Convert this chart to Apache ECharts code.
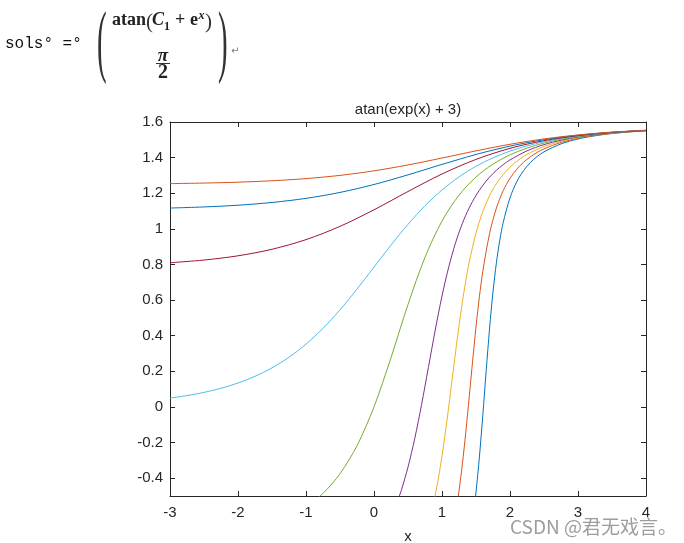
<!DOCTYPE html>
<html>
<head>
<meta charset="utf-8">
<script src="https://cdn.jsdelivr.net/npm/echarts@6/dist/echarts.min.js"></script>
<style>
html,body{margin:0;padding:0;background:#fff;}
#chart{width:684px;height:543px;}
</style>
</head>
<body>
<div id="chart"></div>
<script>
// ---- data (atan(exp(x)+C) curves) ----
var titleText = 'atan(exp(x) + 3)';
var xTicks = [-3, -2, -1, 0, 1, 2, 3, 4];
var yTicks = [-0.4, -0.2, 0, 0.2, 0.4, 0.6, 0.8, 1, 1.2, 1.4, 1.6];

var xCoarse = [-3, -2.5, -2, -1.5, -1, -0.5, 0, 0.5, 1, 1.5, 2, 2.5, 3, 3.5, 4];
var yCp3 = [1.2540, 1.2571, 1.2621, 1.2700, 1.2822, 1.3003, 1.3258, 1.3589, 1.3977, 1.4379, 1.4749, 1.5050, 1.5275, 1.5431, 1.5534];
var yCp2 = [1.1169, 1.1231, 1.1328, 1.1481, 1.1712, 1.2045, 1.2490, 1.3033, 1.3620, 1.4177, 1.4647, 1.5004, 1.5256, 1.5423, 1.5531];
var yCp1 = [0.8097, 0.8248, 0.8487, 0.8854, 0.9395, 1.0140, 1.1071, 1.2098, 1.3081, 1.3900, 1.4522, 1.4951, 1.5234, 1.5415, 1.5528];

var xC0 = [-3, -2.75, -2.5, -2.25, -2, -1.75, -1.5, -1.25, -1, -0.75, -0.5, -0.25, 0, 0.25, 0.5, 0.75, 1, 1.25, 1.5, 1.75, 2, 2.25, 2.5, 2.75, 3, 3.25, 3.5, 3.75, 4];
var yC0 = [0.0497, 0.0638, 0.0819, 0.1050, 0.1345, 0.1721, 0.2195, 0.2790, 0.3525, 0.4413, 0.5452, 0.6617, 0.7854, 0.9091, 1.0256, 1.1295, 1.2183, 1.2918, 1.3513, 1.3987, 1.4363, 1.4658, 1.4889, 1.5070, 1.5211, 1.5320, 1.5406, 1.5473, 1.5525];

var xCm1 = [-1, -0.75, -0.5, -0.25, 0, 0.25, 0.5, 0.75, 1, 1.25, 1.5, 1.75, 2, 2.25, 2.5, 2.75, 3, 3.25, 3.5, 3.75, 4];
var yCm1 = [-0.5637, -0.4855, -0.3749, -0.2177, 0, 0.2767, 0.5755, 0.8406, 1.0437, 1.1890, 1.2911, 1.3635, 1.4155, 1.4535, 1.4816, 1.5026, 1.5184, 1.5305, 1.5397, 1.5467, 1.5521];

var xCm2 = [0.3, 0.4, 0.5, 0.6, 0.7, 0.8, 0.9, 1.0, 1.1, 1.2, 1.3, 1.4, 1.5, 1.6, 1.7, 1.8, 1.9, 2.0, 2.25, 2.5, 2.75, 3, 3.5, 4];
var yCm2 = [-0.5765, -0.4702, -0.3378, -0.1760, 0.0138, 0.2218, 0.4308, 0.6229, 0.7875, 0.9225, 1.0311, 1.1179, 1.1878, 1.2443, 1.2905, 1.3287, 1.3605, 1.3873, 1.4380, 1.4729, 1.4976, 1.5156, 1.5387, 1.5518];

var xCm3 = [0.8, 0.85, 0.9, 0.95, 1.0, 1.05, 1.1, 1.15, 1.2, 1.25, 1.3, 1.35, 1.4, 1.5, 1.6, 1.7, 1.8, 1.9, 2.0, 2.1, 2.2, 2.3, 2.5, 2.75, 3, 3.25, 3.5, 4];
var yCm3 = [-0.6590, -0.5836, -0.4954, -0.3928, -0.2746, -0.1414, 0.0042, 0.1569, 0.3098, 0.4559, 0.5898, 0.7088, 0.8123, 0.9771, 1.0976, 1.1867, 1.2539, 1.3059, 1.3468, 1.3796, 1.4063, 1.4284, 1.4623, 1.4919, 1.5123, 1.5269, 1.5376, 1.5514];

var xCm4 = [1.2, 1.25, 1.3, 1.35, 1.4, 1.45, 1.5, 1.55, 1.6, 1.7, 1.8, 1.9, 2.0, 2.1, 2.2, 2.3, 2.4, 2.5, 2.75, 3, 3.25, 3.5, 3.75, 4];
var yCm4 = [-0.5971, -0.4713, -0.3194, -0.1416, 0.0551, 0.2573, 0.4489, 0.6184, 0.7614, 0.9747, 1.1169, 1.2144, 1.2839, 1.3352, 1.3744, 1.4049, 1.4294, 1.4492, 1.4851, 1.5087, 1.5249, 1.5365, 1.5448, 1.5510];

var xCm5 = [1.4, 1.45, 1.5, 1.55, 1.6, 1.65, 1.7, 1.75, 1.8, 1.85, 1.9, 2.0, 2.1, 2.2, 2.3, 2.4, 2.5, 2.75, 3, 3.25, 3.5, 3.75, 4];
var yCm5 = [-0.7570, -0.6351, -0.4782, -0.2809, -0.0469, 0.2041, 0.4426, 0.6464, 0.8096, 0.9367, 1.0354, 1.1744, 1.2649, 1.3273, 1.3724, 1.4063, 1.4325, 1.4771, 1.5046, 1.5227, 1.5352, 1.5442, 1.5506];

// plot order (MATLAB colour order)
var curves = [
  {x: xCm5, y: yCm5, color: '#0072BD'},
  {x: xCm4, y: yCm4, color: '#D95319'},
  {x: xCm3, y: yCm3, color: '#EDB120'},
  {x: xCm2, y: yCm2, color: '#7E2F8E'},
  {x: xCm1, y: yCm1, color: '#77AC30'},
  {x: xC0,  y: yC0,  color: '#4DBEEE'},
  {x: xCoarse, y: yCp1, color: '#A2142F'},
  {x: xCoarse, y: yCp2, color: '#0072BD'},
  {x: xCoarse, y: yCp3, color: '#D95319'}
];

function zip(xs, ys) { return xs.map(function (v, i) { return [v, ys[i]]; }); }
function fmt(v) { return String(parseFloat(Number(v).toFixed(2))); }

var axisColor = '#262626';
var sans = '"Liberation Sans", Arial, sans-serif';
var serif = '"Liberation Serif", "Times New Roman", serif';

var chart = echarts.init(document.getElementById('chart'), null, {renderer: 'canvas'});
var tickStyle = {inside: true, length: 5, lineStyle: {color: axisColor, width: 1}};
var lineStyleAxis = {color: axisColor, width: 1};

chart.setOption({
  animation: false,
  backgroundColor: '#ffffff',
  grid: {left: 170, right: 38, top: 122, bottom: 47, containLabel: false, outerBoundsMode: 'none'},
  xAxis: [
    {type: 'value', min: -3, max: 4, interval: 1, position: 'bottom',
     axisLine: {show: true, onZero: false, lineStyle: lineStyleAxis},
     axisTick: tickStyle,
     axisLabel: {color: axisColor, fontSize: 15, fontFamily: sans, margin: 9, formatter: fmt},
     splitLine: {show: false},
     name: 'x', nameLocation: 'middle', nameGap: 33,
     nameTextStyle: {color: axisColor, fontSize: 15, fontFamily: sans}},
    {type: 'value', min: -3, max: 4, interval: 1, position: 'top',
     axisLine: {show: true, onZero: false, lineStyle: lineStyleAxis},
     axisTick: tickStyle, axisLabel: {show: false}, splitLine: {show: false}}
  ],
  yAxis: [
    {type: 'value', min: -0.5, max: 1.6, position: 'left',
     axisLine: {show: true, onZero: false, lineStyle: lineStyleAxis},
     axisTick: {inside: true, length: 5, lineStyle: {color: axisColor, width: 1}, customValues: yTicks},
     axisLabel: {color: axisColor, fontSize: 15, fontFamily: sans, margin: 7, formatter: fmt, customValues: yTicks},
     splitLine: {show: false}},
    {type: 'value', min: -0.5, max: 1.6, position: 'right',
     axisLine: {show: true, onZero: false, lineStyle: lineStyleAxis},
     axisTick: {inside: true, length: 5, lineStyle: {color: axisColor, width: 1}, customValues: yTicks},
     axisLabel: {show: false, customValues: yTicks}, splitLine: {show: false}}
  ],
  series: curves.map(function (c) {
    return {type: 'line', xAxisIndex: 0, yAxisIndex: 0, data: zip(c.x, c.y),
      showSymbol: false, symbol: 'none', smooth: 0.3, clip: true,
      lineStyle: {color: c.color, width: 1}, emphasis: {disabled: true}, silent: true};
  }),
  graphic: [
    {type: 'text', x: 408, y: 110, style: {text: titleText, fill: axisColor, fontSize: 15, fontFamily: sans, align: 'center', verticalAlign: 'middle'}},
    // header formula
    {type: 'text', x: 5, y: 44, style: {text: 'sols° =°', fill: '#111', fontSize: 16, fontFamily: '"Liberation Mono", "DejaVu Sans Mono", monospace', verticalAlign: 'middle'}},
    {type: 'text', x: 97, y: 46, scaleX: 0.36, style: {text: '(', fill: '#333', fontSize: 80, fontFamily: serif, verticalAlign: 'middle'}},
    {type: 'text', x: 218, y: 46, scaleX: 0.36, style: {text: ')', fill: '#333', fontSize: 80, fontFamily: serif, verticalAlign: 'middle'}},
    {type: 'text', x: 112, y: 29, style: {text: 'atan', fill: '#222', fontSize: 18, fontWeight: 'bold', fontFamily: serif, verticalAlign: 'bottom'}},
    {type: 'text', x: 146, y: 33, style: {text: '(', fill: '#333', fontSize: 21, fontFamily: serif, verticalAlign: 'bottom'}},
    {type: 'text', x: 152, y: 29, style: {text: 'C', fill: '#222', fontSize: 18, fontWeight: 'bold', fontStyle: 'italic', fontFamily: serif, verticalAlign: 'bottom'}},
    {type: 'text', x: 164, y: 33, style: {text: '1', fill: '#222', fontSize: 12, fontWeight: 'bold', fontFamily: serif, verticalAlign: 'bottom'}},
    {type: 'text', x: 175, y: 29, style: {text: '+', fill: '#222', fontSize: 18, fontWeight: 'bold', fontFamily: serif, verticalAlign: 'bottom'}},
    {type: 'text', x: 190, y: 29, style: {text: 'e', fill: '#222', fontSize: 18, fontWeight: 'bold', fontFamily: serif, verticalAlign: 'bottom'}},
    {type: 'text', x: 198.5, y: 22, style: {text: 'x', fill: '#222', fontSize: 12, fontWeight: 'bold', fontStyle: 'italic', fontFamily: serif, verticalAlign: 'bottom'}},
    {type: 'text', x: 205, y: 33, style: {text: ')', fill: '#333', fontSize: 21, fontFamily: serif, verticalAlign: 'bottom'}},
    {type: 'text', x: 163, y: 56, style: {text: 'π', fill: '#222', fontSize: 19, fontWeight: 'bold', fontStyle: 'italic', fontFamily: serif, align: 'center', verticalAlign: 'middle'}},
    {type: 'line', shape: {x1: 156, y1: 63.5, x2: 170, y2: 63.5}, style: {stroke: '#333', lineWidth: 1}},
    {type: 'text', x: 163, y: 73, style: {text: '2', fill: '#222', fontSize: 20, fontWeight: 'bold', fontFamily: serif, align: 'center', verticalAlign: 'middle'}},
    {type: 'text', x: 231, y: 51, style: {text: '↵', fill: '#777', fontSize: 10, fontFamily: '"DejaVu Sans", sans-serif', verticalAlign: 'middle'}},
    // watermark
    {type: 'text', x: 510, y: 527, z: 100, style: {text: 'CSDN @君无戏言。', fill: 'rgba(140,140,140,0.85)', fontSize: 19, fontFamily: '"Noto Sans CJK SC", sans-serif', verticalAlign: 'middle'}}
  ]
});
</script>
</body>
</html>
